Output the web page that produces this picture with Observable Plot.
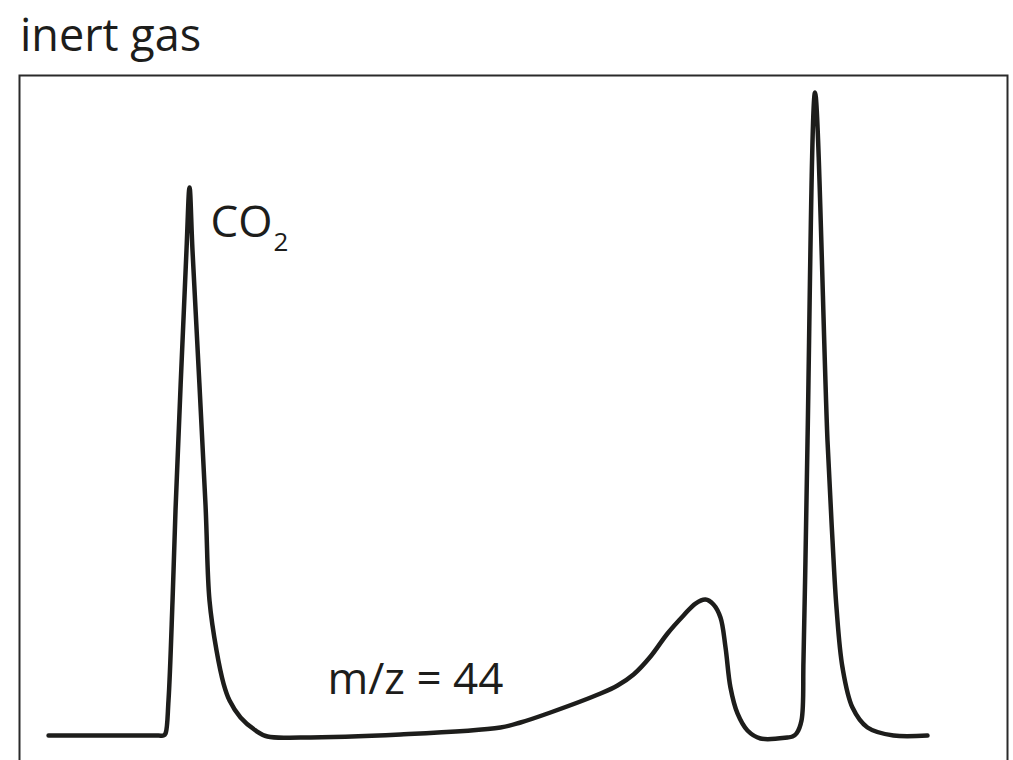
<!DOCTYPE html>
<html>
<head>
<meta charset="utf-8">
<script src="https://cdn.jsdelivr.net/npm/d3@7"></script>
<script src="https://cdn.jsdelivr.net/npm/@observablehq/plot@0.6"></script>
<style>
  html, body { margin: 0; padding: 0; overflow: hidden; background: #fff; }
  #title { height: 70px; box-sizing: border-box; padding: 11px 0 0 20px; font-family: "Open Sans", sans-serif; font-size: 45px; line-height: 45px; color: #1d1d1b; }
  #chart svg { display: block; }
</style>
</head>
<body>
<div id="title">inert gas</div>
<div id="chart"></div>
<script>
// retention time (arbitrary units) and detector signal for m/z = 44
const time = [2.94,10.0,14.07,14.57,14.78,15.08,15.49,15.79,16.90,17.21,17.51,18.83,19.23,19.94,20.65,21.26,22.37,23.89,25.10,28.44,38.56,48.68,50.71,53.74,58.81,60.53,62.15,63.87,65.59,67.21,68.42,69.43,70.24,70.95,71.46,71.96,72.67,73.68,75.0,77.73,78.24,78.64,79.15,79.35,79.55,79.76,80.52,81.78,82.29,82.69,83.30,84.31,85.83,88.46,91.90];
const signal = [5.71,5.71,5.71,5.71,6.0,10.71,25.0,37.86,75.0,84.0,75.0,38.57,25.0,17.86,13.14,10.71,8.29,6.43,5.57,5.43,5.86,6.86,7.57,9.0,11.71,12.86,14.43,17.0,20.29,22.86,24.57,25.14,24.43,22.57,18.29,12.57,8.86,6.43,5.29,5.43,5.57,6.0,7.86,16.43,30.71,47.86,97.57,47.86,33.57,24.0,15.43,9.71,6.86,5.71,5.71];

// annotation labels
const labelText = ["CO", "m/z = 44"];
const labelTime = [19.33, 31.17];
const labelSignal = [77.0, 11.71];
const subText = ["2"];
const subTime = [25.71];
const subSignal = [74.86];

const trace = time.map((t, i) => ({t, s: signal[i]}));
const labels = labelText.map((text, i) => ({text, t: labelTime[i], s: labelSignal[i]}));
const subs = subText.map((text, i) => ({text, t: subTime[i], s: subSignal[i]}));

const ink = "#1d1d1b";

const chart = Plot.plot({
  width: 1013,
  height: 710,
  marginTop: 5,
  marginLeft: 19,
  marginRight: 6,
  marginBottom: 5,
  style: {fontFamily: "'Open Sans', sans-serif", background: "#fff", color: ink},
  x: {domain: [0, 100], axis: null},
  y: {domain: [0, 100], axis: null},
  marks: [
    Plot.frame({stroke: "#2a2a2a", strokeWidth: 2}),
    Plot.line(trace, {x: "t", y: "s", stroke: ink, strokeWidth: 4.5, curve: "catmull-rom"}),
    Plot.text(labels, {x: "t", y: "s", text: "text", textAnchor: "start", lineAnchor: "bottom", fontSize: 44, fill: ink}),
    Plot.text(subs, {x: "t", y: "s", text: "text", textAnchor: "start", lineAnchor: "bottom", fontSize: 26, fill: ink})
  ]
});
document.getElementById("chart").appendChild(chart);
</script>
</body>
</html>
